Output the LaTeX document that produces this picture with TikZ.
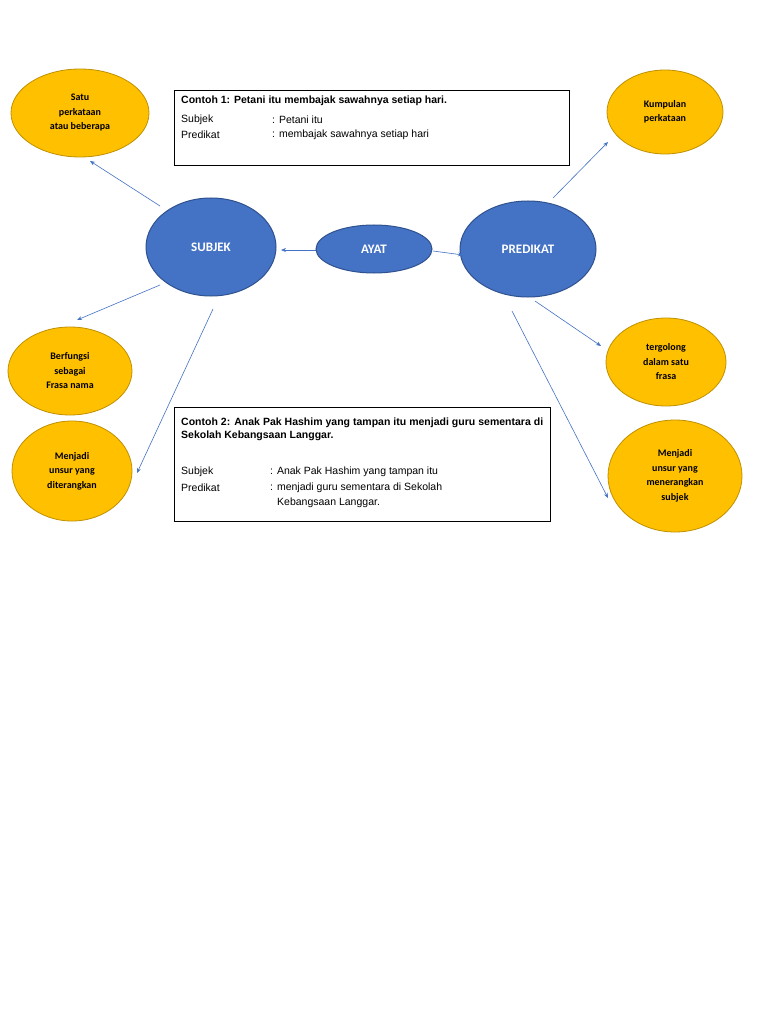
\documentclass[tikz,border=0pt]{standalone}
\usepackage{fontspec}
\setmainfont{Liberation Sans}
\newfontfamily\calfont{Carlito}
\usetikzlibrary{shapes.geometric,arrows.meta}
\begin{document}
\begin{tikzpicture}[x=1pt,y=-1pt,
 bl/.style={ellipse,fill=bfill,draw=bdraw,line width=1pt,font=\calfont\bfseries\fontsize{13}{15}\selectfont,text=white},
 ob/.style={ellipse,fill=ofill,draw=odraw,line width=0.8pt,font=\calfont\bfseries\fontsize{10}{14.5}\selectfont,align=center},
 ar/.style={draw=aline,line width=0.6pt,-{Stealth[length=5pt,width=4pt]}},
 bx/.style={draw=black,line width=0.8pt},
 tx/.style={anchor=west,inner sep=0pt,font=\fontsize{10.5}{13}\selectfont},
 tb/.style={anchor=west,inner sep=0pt,font=\bfseries\fontsize{10.5}{13}\selectfont}]
\definecolor{bfill}{HTML}{4472C4}\definecolor{bdraw}{HTML}{2F528F}
\definecolor{ofill}{HTML}{FFC000}\definecolor{odraw}{HTML}{BF9000}
\definecolor{aline}{HTML}{4472C4}
\useasboundingbox[fill=white] (0,0) rectangle (768,1024);
\node[bl,minimum width=130,minimum height=98] (subj) at (211,247) {SUBJEK};
\node[bl,minimum width=116,minimum height=48] (ayat) at (374,249) {AYAT};
\node[bl,minimum width=136,minimum height=96] (pred) at (528,249) {PREDIKAT};
\node[ob,minimum width=138,minimum height=88] (satu) at (80,113) {Satu\\perkataan\\atau beberapa};
\node[ob,minimum width=116,minimum height=84] (kump) at (665,112) {Kumpulan\\perkataan};
\node[ob,minimum width=124,minimum height=88] (berf) at (70,371) {Berfungsi\\sebagai\\Frasa nama};
\node[ob,minimum width=120,minimum height=100] (menl) at (72,471) {Menjadi\\unsur yang\\diterangkan};
\node[ob,minimum width=120,minimum height=88] (terg) at (666,362) {tergolong\\dalam satu\\frasa};
\node[ob,minimum width=134,minimum height=112] (menr) at (675,476) {Menjadi\\unsur yang\\menerangkan\\subjek};
\node[bx,minimum width=395,minimum height=75] (c1) at (371.5,127.5) {};
\node[bx,minimum width=376,minimum height=114] (c2) at (362,464) {};
\node[tb] (c1a) at (181,101) {Contoh 1: Petani itu membajak sawahnya setiap hari.};
\node[tx] (c1b) at (181,120) {Subjek};
\node[tx] (c1c) at (272,120) {: Petani itu};
\node[tx] (c1d) at (181,135) {Predikat};
\node[tx] (c1e) at (272,135) {: membajak sawahnya setiap hari};
\node[tb,text width=362,align=justify] (c2a) at (181,429) {Contoh 2: Anak Pak Hashim yang tampan itu menjadi guru sementara di Sekolah Kebangsaan Langgar.\par};
\node[tx] (c2b) at (181,472) {Subjek};
\node[tx] (c2c) at (270,472) {: Anak Pak Hashim yang tampan itu};
\node[tx] (c2d) at (181,488) {Predikat};
\node[tx] (c2e) at (270,488) {: menjadi guru sementara di Sekolah};
\node[tx] (c2f) at (277,503) {Kebangsaan Langgar.};
\coordinate (s1) at (160,206); \coordinate (s1e) at (90,161);
\coordinate (s2) at (160,285); \coordinate (s2e) at (77,320);
\coordinate (s3) at (213,309); \coordinate (s3e) at (137,473);
\coordinate (a1) at (316,250); \coordinate (a1e) at (281,250);
\coordinate (a2) at (433,251); \coordinate (a2e) at (463,255);
\coordinate (p1) at (553,198); \coordinate (p1e) at (608,142);
\coordinate (p2) at (535,301); \coordinate (p2e) at (601,346);
\coordinate (p3) at (512,311); \coordinate (p3e) at (608,498);
\foreach \a/\b in {s1/s1e,s2/s2e,s3/s3e,a1/a1e,a2/a2e,p1/p1e,p2/p2e,p3/p3e}{\draw[ar] (\a) -- (\b);}
\end{tikzpicture}
\end{document}
